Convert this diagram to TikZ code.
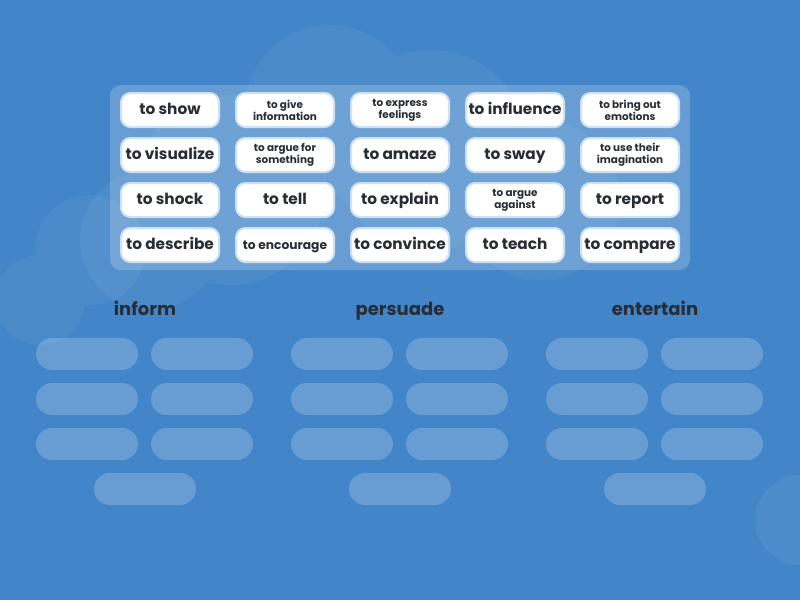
\documentclass[tikz,border=0pt]{standalone}
\usepackage{fontspec}
\setmainfont{Poppins}
\definecolor{bgblue}{RGB}{66,133,200}
\definecolor{inkdark}{RGB}{40,44,52}
\definecolor{tileedge}{RGB}{205,225,245}
\tikzset{every picture/.style={line width=0.75pt}}
\tikzset{
  tile/.style={draw=tileedge, line width=1.5pt, fill=white, rounded corners=7pt,
    minimum width=98pt*0.75, minimum height=34pt*0.75, inner sep=0pt,
    text=inkdark, font=\bfseries\fontsize{11.5}{13}\selectfont,
    text height=8.5pt, text depth=2.5pt},
  small/.style={font=\bfseries\fontsize{7.8}{9}\selectfont, align=center,
    text height=, text depth=},
  slot/.style={fill=white, fill opacity=0.2, draw=none, rounded corners=12pt,
    minimum width=102pt*0.75, minimum height=32pt*0.75, inner sep=0pt},
  heading/.style={text=inkdark, font=\bfseries\fontsize{13.5}{16}\selectfont,
    text height=10pt, text depth=3pt}
}
\begin{document}
\begin{tikzpicture}[x=0.75pt,y=0.75pt,yscale=-1,xscale=1]
% background
\fill[bgblue] (0,0) rectangle (800,600);
\useasboundingbox (0,0) rectangle (800,600);
% faint clouds
\fill[white, opacity=0.05] (230,190) circle (95) (330,110) circle (85) (430,150) circle (100) (540,200) circle (80) (150,240) circle (70);
\fill[white, opacity=0.05] (90,250) circle (55) (40,300) circle (45);
\fill[white, opacity=0.06] (800,520) circle (45);
% panel
\fill[white, opacity=0.2, rounded corners=8pt] (110,85) rectangle (690,270);

% tiles
\node[tile] (t11) at (170,110) {to show};
\node[tile,small] (t12) at (285,110) {to give\\information};
\node[tile,small] (t13) at (400,110) {to express\\feelings};
\node[tile] (t14) at (515,110) {to influence};
\node[tile,small] (t15) at (630,110) {to bring out\\emotions};
\node[tile] (t21) at (170,155) {to visualize};
\node[tile,small] (t22) at (285,155) {to argue for\\something};
\node[tile] (t23) at (400,155) {to amaze};
\node[tile] (t24) at (515,155) {to sway};
\node[tile,small] (t25) at (630,155) {to use their\\imagination};
\node[tile] (t31) at (170,200) {to shock};
\node[tile] (t32) at (285,200) {to tell};
\node[tile] (t33) at (400,200) {to explain};
\node[tile,small] (t34) at (515,200) {to argue\\against};
\node[tile] (t35) at (630,200) {to report};
\node[tile] (t41) at (170,245) {to describe};
\node[tile,font=\bfseries\fontsize{9.2}{11}\selectfont] (t42) at (285,245) {to encourage};
\node[tile] (t43) at (400,245) {to convince};
\node[tile] (t44) at (515,245) {to teach};
\node[tile] (t45) at (630,245) {to compare};

% groups
\foreach \name/\cx in {inform/145, persuade/400, entertain/655}{
  \node[heading] (h\name) at (\cx,311) {\name};
  \foreach \r/\cy in {1/354, 2/399, 3/444}{
    \node[slot] (s\name\r a) at (\cx-58,\cy) {};
    \node[slot] (s\name\r b) at (\cx+57,\cy) {};
  }
  \node[slot] (s\name4) at (\cx,489) {};
}
\end{tikzpicture}
\end{document}
